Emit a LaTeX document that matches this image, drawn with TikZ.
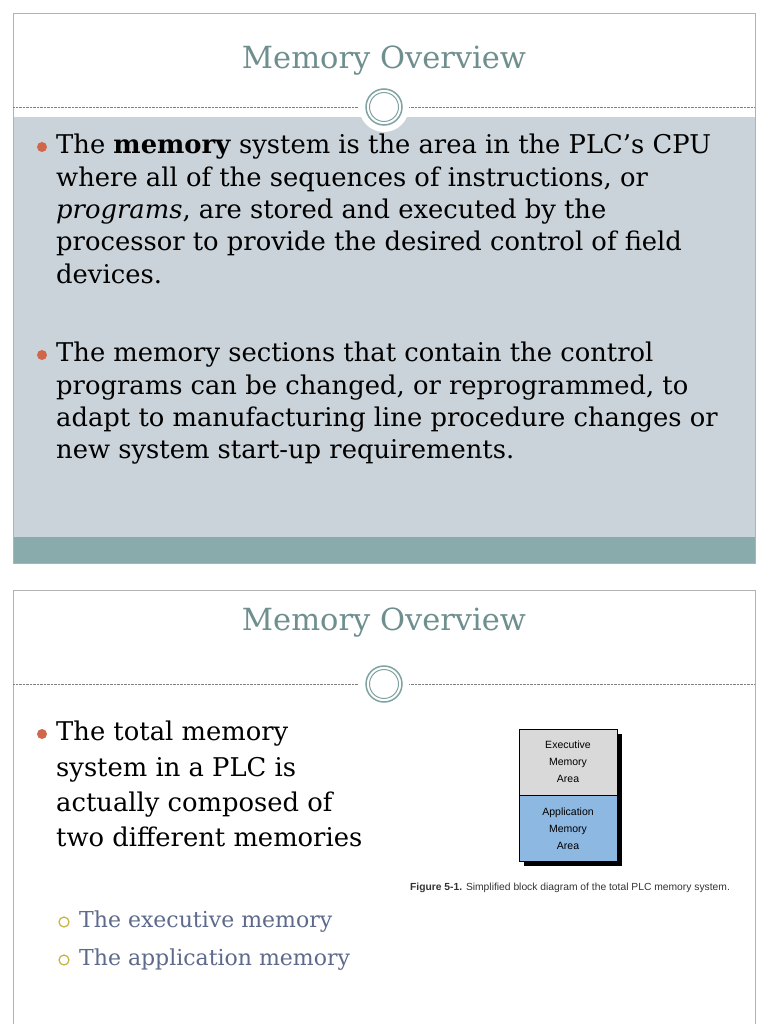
\documentclass[tikz,border=0pt]{standalone}
\usepackage{fontspec}
\setmainfont{DejaVu Serif}
\newfontfamily\sansf{Liberation Sans}
\definecolor{ttl}{HTML}{6F8F8F}
\definecolor{panel}{HTML}{C9D3D9}
\definecolor{band}{HTML}{8AABAB}
\definecolor{ring}{HTML}{7FA3A3}
\definecolor{bul}{HTML}{D0664A}
\definecolor{sub}{HTML}{5E6A8C}
\definecolor{ybul}{HTML}{C8B43C}
\definecolor{exe}{HTML}{D9D9D9}
\definecolor{app}{HTML}{8DB8E2}
\begin{document}
\begin{tikzpicture}[x=1pt,y=-1pt,
 title/.style={text=ttl,font=\fontsize{30.5}{34}\selectfont},
 body/.style={anchor=north west,align=left,inner sep=0pt,font=\fontsize{25.8}{32.3}\selectfont},
 subtext/.style={anchor=west,inner sep=0pt,text=sub,font=\fontsize{22}{26}\selectfont},
 blk/.style={draw=black,line width=0.6pt,minimum width=98pt,minimum height=66pt,align=center,font=\sansf\fontsize{10.5}{17}\selectfont,inner sep=0pt}]
\useasboundingbox (0,0) rectangle (768,1024);
\fill[white] (0,0) rectangle (768,1024);
% slide 1
\draw[gray!60] (13,13) rectangle (755,563);
\fill[panel] (13.5,117) rectangle (754.5,537);
\fill[band] (13.5,537) rectangle (754.5,563);
\node[title] (t1) at (384,61) {Memory Overview};
\draw[densely dotted,gray] (13,107) -- (755,107);
\fill[white] (384,107) circle (25);
\draw[ring,line width=1.5pt] (384,107) circle (18);
\draw[ring,line width=1pt] (384,107) circle (14.5);
\fill[bul] (42,147) circle (5);
\node[body] (b1) at (56,134) {The \textbf{memory} system is the area in the PLC’s CPU\\where all of the sequences of instructions, or\\\textit{programs}, are stored and executed by the\\processor to provide the desired control of field\\devices.};
\fill[bul] (42,355) circle (5);
\node[body] (b2) at (56,342) {The memory sections that contain the control\\programs can be changed, or reprogrammed, to\\adapt to manufacturing line procedure changes or\\new system start-up requirements.};
% slide 2
\draw[gray!60] (13,1030) -- (13,590) -- (755,590) -- (755,1030);
\node[title] (t2) at (384,623) {Memory Overview};
\draw[densely dotted,gray] (13,684) -- (755,684);
\fill[white] (384,684) circle (25);
\draw[ring,line width=1.5pt] (384,684) circle (18);
\draw[ring,line width=1pt] (384,684) circle (14.5);
\fill[bul] (42,734) circle (5);
\node[body,font=\fontsize{25.8}{35.3}\selectfont] (b3) at (56,721) {The total memory\\system in a PLC is\\actually composed of\\two different memories};
\draw[ybul,line width=1.2pt] (64,922) circle (5);
\node[subtext] (s1) at (79,922) {The executive memory};
\draw[ybul,line width=1.2pt] (64,960) circle (5);
\node[subtext] (s2) at (79,960) {The application memory};
\fill[black] (524,734) rectangle (622,866);
\node[blk,fill=exe] (ex) at (568,762) {Executive\\Memory\\Area};
\node[blk,fill=app,anchor=north] (ap) at (ex.south) {Application\\Memory\\Area};
\node[font=\sansf\fontsize{10.3}{12}\selectfont,text=black!80] (cap) at (570,888) {\textbf{Figure 5-1.} Simplified block diagram of the total PLC memory system.};
\end{tikzpicture}
\end{document}
